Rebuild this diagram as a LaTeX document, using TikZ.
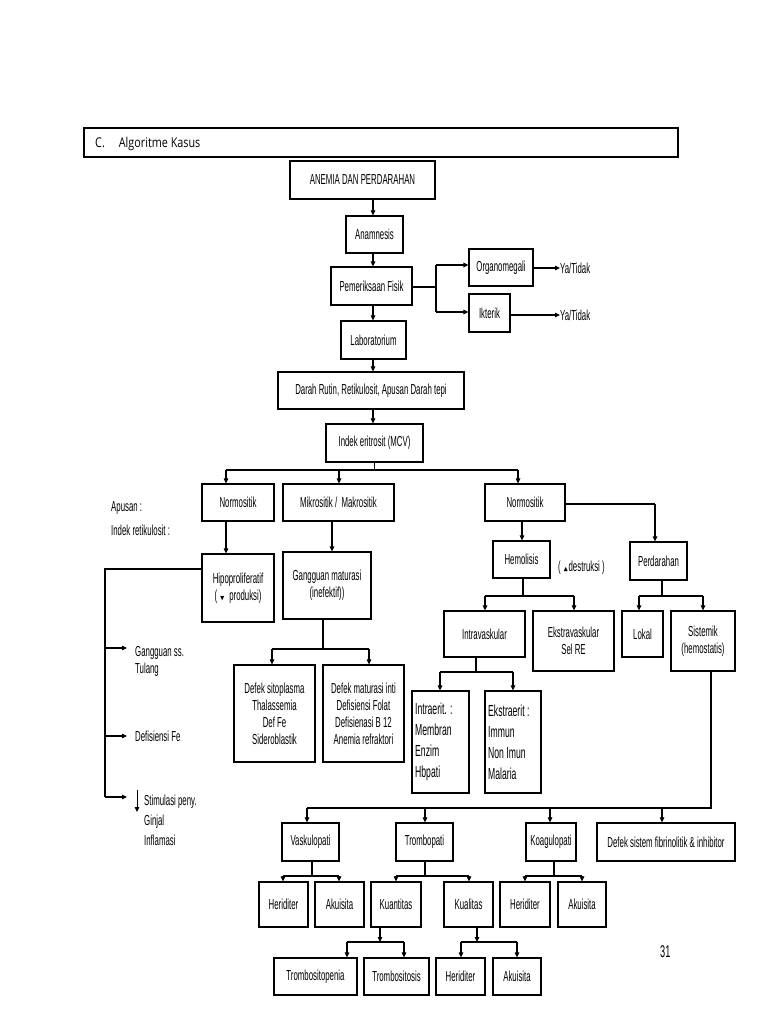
\documentclass[tikz,border=0pt]{standalone}
\usepackage{amssymb}
\usepackage{fontspec}
\setmainfont{Liberation Sans}[FakeStretch=0.54]
\newfontfamily\titlefont{Open Sans}[FakeStretch=0.8]
\usetikzlibrary{arrows.meta}
\tikzset{
  box/.style={draw,line width=1.2pt,inner sep=0pt,align=center,font=\fontsize{14.5}{17}\selectfont},
  lbl/.style={inner sep=0pt,anchor=west,align=left,font=\fontsize{14.5}{17}\selectfont},
  ln/.style={line width=1.1pt},
  arr/.style={line width=1.1pt,-{Triangle[length=5pt,width=4.5pt]}}
}
\newcommand\B[6]{\node[box,minimum width={#4-#2},minimum height={#5-#3}] (#1) at ({(#2+#4)/2},{(#3+#5)/2}) {#6};}
\begin{document}
\begin{tikzpicture}[x=1pt,y=-1pt]
\useasboundingbox (0,0) rectangle (768,1024);
% title
\node[draw,line width=1.2pt,minimum width=594,minimum height=29,inner sep=0pt] (title) at (381,142.5) {};
\node[lbl,font=\titlefont\fontsize{13.5}{15}\selectfont] (tt) at (95,144) {C.\hspace{14pt}Algoritme Kasus};
\draw[line width=2pt] (84,157) -- (678,157);
% main chain
\B{anemia}{290}{161}{435}{199}{ANEMIA DAN PERDARAHAN}
\B{anam}{346}{216}{403}{253}{Anamnesis}
\B{fisik}{331}{267}{412}{305}{Pemeriksaan Fisik}
\B{lab}{341}{321}{406}{359}{Laboratorium}
\B{darah}{278}{372}{464}{409}{Darah Rutin, Retikulosit, Apusan Darah tepi}
\B{indek}{326}{424}{423}{462}{Indek eritrosit (MCV)}
\B{organ}{469}{249}{533}{286}{Organomegali}
\B{ikter}{469}{294}{510}{332}{Ikterik}
\node[lbl] (ya1) at (560,268) {Ya/Tidak};
\node[lbl] (ya2) at (560,315) {Ya/Tidak};
\coordinate (cA) at (373,0);
\draw[arr] (anemia.south -| cA) -- (anam.north -| cA);
\draw[arr] (anam.south -| cA) -- (fisik.north -| cA);
\draw[arr] (fisik.south -| cA) -- (lab.north -| cA);
\draw[arr] (lab.south -| cA) -- (darah.north -| cA);
\draw[arr] (darah.south -| cA) -- (indek.north -| cA);
\coordinate (fb) at (436,287);
\draw[ln] (fisik.east |- fb) -- (fb);
\draw[ln] (436,265) coordinate (f1) -- (436,312) coordinate (f2);
\draw[arr] (f1) -- (organ.west |- f1);
\draw[arr] (f2) -- (ikter.west |- f2);
\draw[arr] (organ.east |- ya1) -- (ya1.west);
\draw[arr] (ikter.east |- ya2) -- (ya2.west);
% level 2
\B{norm1}{202}{484}{274}{521}{Normositik}
\B{mikro}{283}{484}{394}{521}{Mikrositik /\ \ Makrositik}
\B{norm2}{485}{484}{565}{521}{Normositik}
\coordinate (i1) at (226,470); \coordinate (i2) at (339,470); \coordinate (i3) at (518,470);
\draw[ln] (indek.south) -- (indek.south |- i1);
\draw[ln] (i1) -- (i3);
\draw[arr] (i1) -- (norm1.north -| i1);
\draw[arr] (i2) -- (mikro.north -| i2);
\draw[arr] (i3) -- (norm2.north -| i3);
\node[lbl] (apusan) at (111,508) {Apusan :};
\node[lbl] (retik) at (111,530) {Indek retikulosit :};
% left branch
\B{hipo}{202}{554}{274}{622}{Hipoproliferatif\\(\,{\scriptsize$\blacktriangledown$}\ \ produksi)}
\B{gangm}{283}{552}{371}{619}{Gangguan maturasi\\(inefektif))}
\draw[arr] (norm1.south -| i1) -- (hipo.north -| i1);
\draw[arr] (mikro.south -| 332,0) -- (gangm.north -| 332,0);
\coordinate (h1) at (105,569);
\coordinate (h2) at (105,797);
\draw[ln] (hipo.west |- h1) -- (h1) -- (h2);
\node[lbl] (gss) at (135,661) {Gangguan ss.\\Tulang};
\node[lbl] (deffe) at (135,736) {Defisiensi Fe};
\node[lbl,font=\fontsize{14.5}{20}\selectfont] (stim) at (144,820) {Stimulasi peny.\\Ginjal\\Inflamasi};
\draw[arr] (105,648) -- (127,648);
\draw[arr] (105,736) -- (127,736);
\draw[arr] (h2) -- (127,797);
\draw[arr,line width=0.8pt] (137,790) -- (137,812);
% gangguan maturasi children
\B{sito}{234}{665}{315}{762}{Defek sitoplasma\\Thalassemia\\Def Fe\\Sideroblastik}
\B{inti}{323}{665}{404}{762}{Defek maturasi inti\\Defisiensi Folat\\Defisienasi B 12\\Anemia refraktori}
\coordinate (g0) at (323,649);
\draw[ln] (gangm.south -| g0) -- (g0);
\draw[ln] (272,649) coordinate (g1) -- (369,649) coordinate (g2);
\draw[arr] (g1) -- (sito.north -| g1);
\draw[arr] (g2) -- (inti.north -| g2);
% normositik2 branch
\B{hemo}{493}{541}{550}{578}{Hemolisis}
\B{perd}{630}{542}{687}{580}{Perdarahan}
\node[lbl] (destr) at (558,568) {(\,{\scriptsize$\blacktriangle$}destruksi )};
\draw[arr] (norm2.south -| 522,0) -- (hemo.north -| 522,0);
\coordinate (p0) at (655,504);
\draw[ln] (norm2.east |- p0) -- (p0);
\draw[arr] (p0) -- (perd.north -| p0);
\B{intra}{444}{611}{525}{657}{Intravaskular}
\B{ekstra}{533}{611}{614}{671}{Ekstravaskular\\Sel RE}
\B{lokal}{622}{611}{663}{657}{Lokal}
\B{sist}{671}{611}{735}{671}{Sistemik\\(hemostatis)}
\coordinate (hm) at (523,596);
\draw[ln] (hemo.south -| hm) -- (hm);
\draw[ln] (485,596) coordinate (hm1) -- (574,596) coordinate (hm2);
\draw[arr] (hm1) -- (intra.north -| hm1);
\draw[arr] (hm2) -- (ekstra.north -| hm2);
\coordinate (pd) at (662,596);
\draw[ln] (perd.south -| pd) -- (pd);
\draw[ln] (639,596) coordinate (pd1) -- (703,596) coordinate (pd2);
\draw[arr] (pd1) -- (lokal.north -| pd1);
\draw[arr] (pd2) -- (sist.north -| pd2);
\B{ierit}{412}{691}{469}{793}{}
\node[lbl,font=\fontsize{16}{21}\selectfont] (ieritt) at (415,742) {Intraerit. :\\Membran\\Enzim\\Hbpati};
\B{eerit}{485}{691}{541}{793}{}
\node[lbl,font=\fontsize{16}{21}\selectfont] (eeritt) at (488,742) {Ekstraerit :\\Immun\\Non Imun\\Malaria};
\coordinate (iv) at (476,672);
\draw[ln] (intra.south -| iv) -- (iv);
\draw[ln] (440,672) coordinate (iv1) -- (513,672) coordinate (iv2);
\draw[arr] (iv1) -- (ierit.north -| iv1);
\draw[arr] (iv2) -- (eerit.north -| iv2);
% hemostasis
\B{vask}{282}{823}{339}{861}{Vaskulopati}
\B{tromb}{396}{823}{453}{861}{Trombopati}
\B{koag}{526}{823}{576}{861}{Koagulopati}
\B{defek}{597}{823}{735}{861}{Defek sistem fibrinolitik \& inhibitor}
\coordinate (s0) at (711,808);
\draw[ln] (sist.south -| s0) -- (s0) -- (307,808) coordinate (s1);
\draw[arr] (s1) -- (vask.north -| s1);
\draw[arr] (425,808) coordinate (s2) -- (tromb.north -| s2);
\draw[arr] (550,808) coordinate (s3) -- (koag.north -| s3);
\draw[arr] (662,808) coordinate (s4) -- (defek.north -| s4);
\B{her1}{259}{882}{308}{927}{Heriditer}
\B{aku1}{315}{882}{364}{927}{Akuisita}
\B{kuan}{371}{882}{421}{927}{Kuantitas}
\B{kual}{444}{882}{493}{927}{Kualitas}
\B{her2}{500}{882}{550}{927}{Heriditer}
\B{aku2}{558}{882}{606}{927}{Akuisita}
\coordinate (v0) at (312,876);
\draw[ln] (vask.south -| v0) -- (v0);
\draw[ln] (283,876) coordinate (v1) -- (339,876) coordinate (v2);
\draw[arr] (v1) -- (her1.north -| v1);
\draw[arr] (v2) -- (aku1.north -| v2);
\coordinate (t0) at (425,876);
\draw[ln] (tromb.south -| t0) -- (t0);
\draw[ln] (396,876) coordinate (t1) -- (469,876) coordinate (t2);
\draw[arr] (t1) -- (kuan.north -| t1);
\draw[arr] (t2) -- (kual.north -| t2);
\coordinate (k0) at (554,876);
\draw[ln] (koag.south -| k0) -- (k0);
\draw[ln] (525,876) coordinate (k1) -- (582,876) coordinate (k2);
\draw[arr] (k1) -- (her2.north -| k1);
\draw[arr] (k2) -- (aku2.north -| k2);
\B{trpen}{274}{958}{357}{995}{Trombositopenia}
\B{trsis}{364}{958}{429}{995}{Trombositosis}
\B{her3}{436}{958}{485}{995}{Heriditer}
\B{aku3}{493}{958}{541}{995}{Akuisita}
\coordinate (q0) at (380,942);
\draw[arr] (kuan.south -| q0) -- (q0);
\draw[ln] (347,942) coordinate (q1) -- (404,942) coordinate (q2);
\draw[arr] (q1) -- (trpen.north -| q1);
\draw[arr] (q2) -- (trsis.north -| q2);
\coordinate (r0) at (477,942);
\draw[arr] (kual.south -| r0) -- (r0);
\draw[ln] (461,942) coordinate (r1) -- (517,942) coordinate (r2);
\draw[arr] (r1) -- (her3.north -| r1);
\draw[arr] (r2) -- (aku3.north -| r2);
\node[lbl,font=\fontsize{17}{19}\selectfont] (pg) at (660,952) {31};
\end{tikzpicture}
\end{document}
